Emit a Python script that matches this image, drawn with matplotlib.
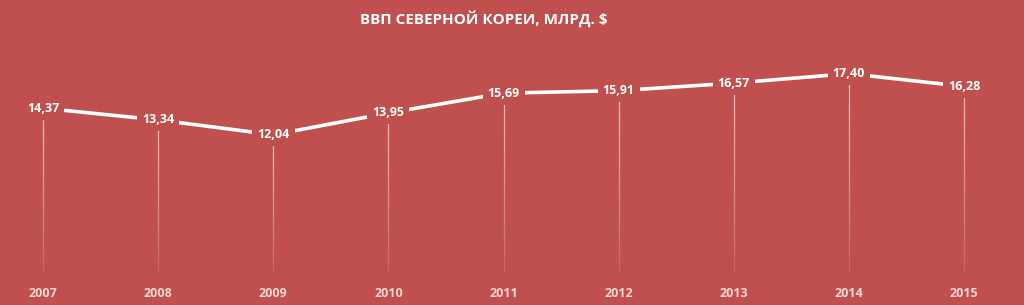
import matplotlib
matplotlib.use("Agg")
import matplotlib.pyplot as plt

# данные: ВВП Северной Кореи, млрд. $
years = [2007, 2008, 2009, 2010, 2011, 2012, 2013, 2014, 2015]
gdp = [14.37, 13.34, 12.04, 13.95, 15.69, 15.91, 16.57, 17.40, 16.28]
labels = ["14,37", "13,34", "12,04", "13,95", "15,69", "15,91", "16,57", "17,40", "16,28"]

bg = "#C0504D"
plt.rcParams['font.family'] = ['Open Sans', 'DejaVu Sans']

fig = plt.figure(figsize=(10.24, 3.05), dpi=100, facecolor=bg)
ax = fig.add_axes([0, 33 / 305, 1, 1 - 33 / 305])
ax.set_facecolor(bg)

# тонкие вертикальные линии от точки до нуля (с затуханием к низу)
n_steps = 12
for x, y in zip(years, gdp):
    for i in range(n_steps):
        y0 = y * i / n_steps
        y1 = y * (i + 1) / n_steps
        ax.plot([x, x], [y0, y1], color="white", lw=0.9,
                alpha=0.1 + 0.55 * (i + 1) / n_steps, solid_capstyle="butt", zorder=1)

ax.plot(years, gdp, color="white", lw=2.6, zorder=2, solid_capstyle="butt")

for x, y, s in zip(years, gdp, labels):
    ax.text(x, y, s, ha="center", va="center", color="white", fontsize=9,
            fontweight="bold", zorder=3,
            bbox=dict(boxstyle="square,pad=0.4", facecolor=bg, edgecolor="none"))

ax.set_xlim(2006.626, 2015.52)
ax.set_ylim(0, 23.86)
ax.set_yticks([])
ax.set_xticks(years)
ax.set_xticklabels([str(y) for y in years], color="#F4D6D5", fontsize=9, fontweight="bold")
ax.tick_params(axis="x", length=0, pad=11)
for sp in ax.spines.values():
    sp.set_visible(False)

fig.text(484 / 1024, 1 - 19 / 305, "ВВП СЕВЕРНОЙ КОРЕИ, МЛРД. $", ha="center", va="center",
         color="white", fontsize=11, fontweight="bold")

fig.savefig("out.png", dpi=100, facecolor=bg)
